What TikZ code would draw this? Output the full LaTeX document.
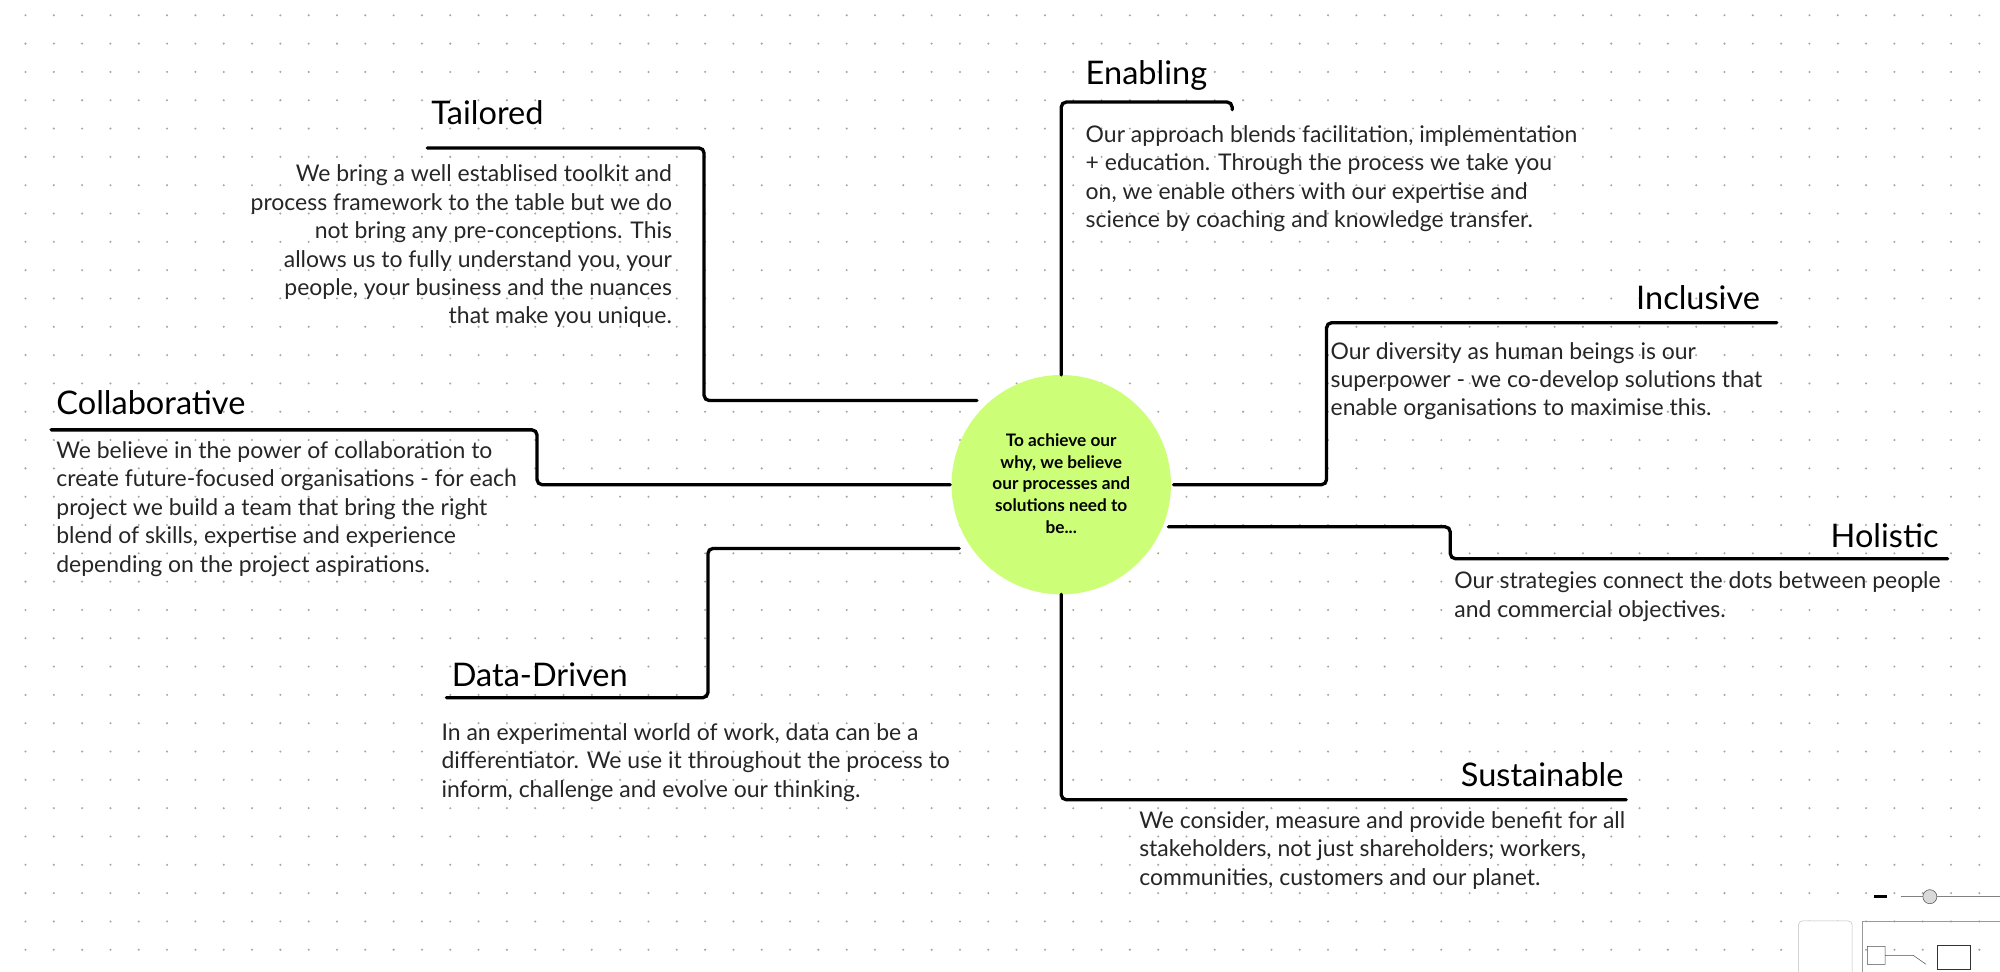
\documentclass[tikz,border=0pt]{standalone}
\usepackage{fontspec}
\setmainfont{Lato}
\begin{document}
\begin{tikzpicture}[x=1pt,y=-1pt,
  conn/.style={line width=2.6pt,rounded corners=4pt,line cap=round},
  ttl/.style={font=\fontsize{25.5}{28}\selectfont,inner sep=0pt},
  body/.style={font=\fontsize{18}{22.3}\selectfont,inner sep=0pt,text=black!85},
  ]
\useasboundingbox (0,0) rectangle (1568,762);
\fill[white] (0,0) rectangle (1568,762);
\foreach \i in {0,...,70}{\foreach \j in {0,...,34}{
  \fill[black!35] (20+22.2*\i,12+22.2*\j) circle (0.9);}}
% centre
\node[circle,fill={rgb,255:red,204;green,255;blue,119},minimum size=172pt,inner sep=0pt] (c) at (832,380) {};
\node[font=\fontsize{13.5}{17}\selectfont\bfseries,align=center] (ct) at (832,379) {To achieve our\\why, we believe\\our processes and\\solutions need to\\be...};
% connectors
\coordinate (t0) at (766,314); \coordinate (t1) at (335,116);
\draw[conn] (t0) -- (552,314) -- (552,116) -- (t1);
\coordinate (e0) at (832,294); \coordinate (e1) at (966,86);
\draw[conn] (e0) -- (832,80) -- (966,80) -- (e1);
\coordinate (co0) at (745,380); \coordinate (co1) at (40,337);
\draw[conn] (co0) -- (421,380) -- (421,337) -- (co1);
\coordinate (i0) at (920,380); \coordinate (i1) at (1393,253);
\draw[conn] (i0) -- (1040,380) -- (1040,253) -- (i1);
\coordinate (h0) at (916,413); \coordinate (h1) at (1527,438);
\draw[conn] (h0) -- (1137,413) -- (1137,438) -- (h1);
\coordinate (d0) at (752,430); \coordinate (d1) at (350,547);
\draw[conn] (d0) -- (555,430) -- (555,547) -- (d1);
\coordinate (s0) at (832,466); \coordinate (s1) at (1275,627);
\draw[conn] (s0) -- (832,627) -- (s1);
% titles
\node[ttl,anchor=base west] (tt) at (338,98) {Tailored};
\node[ttl,anchor=base west] (et) at (851,66) {Enabling};
\node[ttl,anchor=base west] (cot) at (44,325) {Collaborative};
\node[ttl,anchor=base east] (it) at (1380,243) {Inclusive};
\node[ttl,anchor=base east] (ht) at (1520,429) {Holistic};
\node[ttl,anchor=base west] (dt) at (354,538) {Data-Driven};
\node[ttl,anchor=base east] (st) at (1273,617) {Sustainable};
% bodies
\node[body,align=right,anchor=north east] (tb) at (527,129) {We bring a well establised toolkit and\\process framework to the table but we do\\not bring any pre-conceptions. This\\allows us to fully understand you, your\\people, your business and the nuances\\that make you unique.};
\node[body,align=left,anchor=north west] (eb) at (851,98) {Our approach blends facilitation, implementation\\+ education. Through the process we take you\\on, we enable others with our expertise and\\science by coaching and knowledge transfer.};
\node[body,align=left,anchor=north west] (cob) at (44,346) {We believe in the power of collaboration to\\create future-focused organisations - for each\\project we build a team that bring the right\\blend of skills, expertise and experience\\depending on the project aspirations.};
\node[body,align=left,anchor=north west] (ib) at (1043,268) {Our diversity as human beings is our\\superpower - we co-develop solutions that\\enable organisations to maximise this.};
\node[body,align=left,anchor=north west] (hb) at (1140,448) {Our strategies connect the dots between people\\and commercial objectives.};
\node[body,align=left,anchor=north west] (db) at (346,567) {In an experimental world of work, data can be a\\differentiator. We use it throughout the process to\\inform, challenge and evolve our thinking.};
\node[body,align=left,anchor=north west] (sb) at (893,636) {We consider, measure and provide benefit for all\\stakeholders, not just shareholders; workers,\\communities, customers and our planet.};
% UI widgets
\draw[line width=2pt] (1469,703) -- (1479,703);
\draw[black!50,line width=1pt] (1490,703) -- (1568,703);
\node[circle,draw=black!70,fill=black!15,minimum size=11pt,inner sep=0pt] (knob) at (1513,703) {};
\draw[black!25,fill=white,rounded corners=3pt] (1410,722) rectangle (1452,770);
\draw[black!40] (1460,722) rectangle (1575,770);
\draw[black!70] (1464,742) rectangle (1478,756) (1478,749) -- (1500,749) -- (1510,756);
\draw[black!80,fill=white] (1519,741) rectangle (1545,760);
\end{tikzpicture}
\end{document}
